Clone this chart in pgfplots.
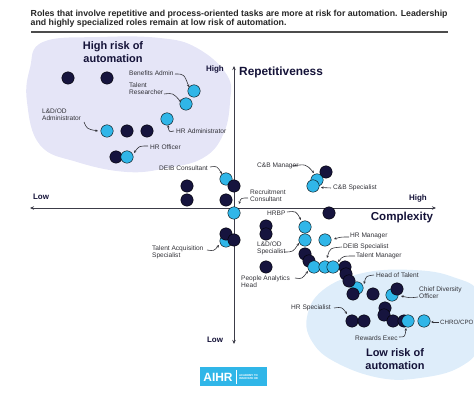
\documentclass[border=0pt]{standalone}
\usepackage{fontspec}
\setmainfont{Liberation Sans}
\usepackage{pgfplots}
\pgfplotsset{compat=1.18}
\usetikzlibrary{arrows.meta}
\definecolor{navy}{RGB}{22,20,62}
\definecolor{sky}{RGB}{48,182,232}
\definecolor{blobA}{RGB}{229,229,247}
\definecolor{blobB}{RGB}{222,237,250}
\definecolor{axgray}{RGB}{60,60,72}
\definecolor{lblgray}{RGB}{50,50,56}
\begin{document}
\begin{tikzpicture}[
  px/.style={x=1bp,y=-1bp,shift={(0bp,395bp)}},
  lbl/.style={font=\fontsize{6.6}{7.3}\selectfont, text=lblgray, inner sep=0pt, align=left, anchor=west},
  big/.style={font=\bfseries\fontsize{11}{13}\selectfont, text=navy!90!black, inner sep=0pt, align=center},
  arr/.style={lblgray, line width=0.6bp, -{Stealth[length=2.6bp,width=2.4bp]}}]
% ---- background shapes, title, quadrant axes (pixel frame) ----
\begin{scope}[px]
\fill[blobA] plot[smooth cycle, tension=0.7] coordinates {(43,42) (100,37) (160,38) (197,48) (227,75) (230,102) (223,135) (203,158) (167,168) (127,172) (77,162) (40,145) (27,102) (30,68)};
\fill[blobB] plot[smooth cycle, tension=0.7] coordinates {(323,290) (363,273) (413,270) (453,277) (480,295) (480,343) (460,367) (420,378) (380,378) (337,363) (313,343) (307,317)};
\node[anchor=north west, inner sep=0pt, align=left, font=\bfseries\fontsize{8.8}{9.4}\selectfont, text=black!85] at (30.5,9.5)
 {Roles that involve repetitive and process-oriented tasks are more at risk for automation. Leadership\\and highly specialized roles remain at low risk of automation.};
\draw[line width=2bp, color=black!70] (31,32.3) -- (448,32.3);
\draw[axgray, line width=0.9bp, {Stealth[length=4bp,width=3.5bp]}-{Stealth[length=4bp,width=3.5bp]}] (30,208) -- (436,208);
\draw[axgray, line width=0.9bp, {Stealth[length=4bp,width=3.5bp]}-{Stealth[length=4bp,width=3.5bp]}] (234,66) -- (234,344);
\end{scope}
% ---- data ----
\begin{axis}[scale only axis, width=474bp, height=395bp,
  xmin=-234, xmax=240, ymin=-187, ymax=208, hide axis, clip=false]
% light-blue roles drawn beneath the dark ones
\addplot[only marks, mark=*, mark size=6.2bp, mark options={fill=sky, draw=none}] coordinates {
 (-8,29) (-8,-33) (123,-80) (158,-87)};
% dark roles
\addplot[only marks, mark=*, mark size=6.2bp, mark options={fill=navy, draw=none}] coordinates {
 (-166,130) (-127,130) (-107,77) (-87,77) (-118,51)
 (0,22) (-47,22) (-47,8) (-8,8) (92,36) (95,-5)
 (32,-18) (32,-26) (-8,-26) (0,-32)
 (71,-46) (75,-53) (111,-59) (32,-59) (112,-66) (115,-73)
 (119,-86) (139,-86) (163,-81) (151,-100) (150,-107) (159,-113)
 (118,-113) (130,-113) (170,-113)};
% light-blue roles drawn on top
\addplot[only marks, mark=*, mark size=6.2bp, mark options={fill=sky, draw=none}] coordinates {
 (-40,117) (-48,104) (-67,89) (-127,77) (-107,51)
 (83,28) (79,22) (0,-5) (71,-19) (71,-32) (91,-32)
 (80,-59) (91,-59) (99,-59) (174,-113) (190,-113)};
\end{axis}
% ---- labels and arrows (pixel frame) ----
\begin{scope}[px]
\node[big] at (113,52.5) {High risk of\\automation};
\node[big] at (395,359.5) {Low risk of\\automation};
\node[font=\bfseries\fontsize{11.9}{13}\selectfont, text=navy!90!black, inner sep=0pt, anchor=west] at (239,72) {Repetitiveness};
\node[font=\bfseries\fontsize{11.6}{13}\selectfont, text=navy!90!black, inner sep=0pt] at (402,218) {Complexity};
\node[font=\bfseries\fontsize{8}{9}\selectfont, text=navy!90!black, inner sep=0pt] at (215,69) {High};
\node[font=\bfseries\fontsize{8}{9}\selectfont, text=navy!90!black, inner sep=0pt] at (418,198) {High};
\node[font=\bfseries\fontsize{8}{9}\selectfont, text=navy!90!black, inner sep=0pt] at (41,197) {Low};
\node[font=\bfseries\fontsize{8}{9}\selectfont, text=navy!90!black, inner sep=0pt] at (215,340) {Low};
%
\node[lbl] at (129,73) {Benefits Admin};
\draw[arr] (175,74) .. controls (184,74) .. (189,87);
\node[lbl] at (129,88.5) {Talent\\Researcher};
\draw[arr] (164,94) .. controls (173,93) .. (181,102);
\node[lbl] at (176,131) {HR Administrator};
\draw[arr] (174,131) .. controls (169,132) .. (168,125);
\node[lbl] at (42,114.5) {L\&D/OD\\Administrator};
\draw[arr] (84,122) .. controls (87,129) .. (98,131);
\node[lbl] at (150,147) {HR Officer};
\draw[arr] (148,146) .. controls (139,146) .. (134,153);
\node[lbl] at (159,168) {DEIB Consultant};
\draw[arr] (210,167) .. controls (217,166) .. (222,174);
\node[lbl] at (257,166) {C\&B Manager};
\draw[arr] (292,166) .. controls (306,164) .. (314,173);
\node[lbl] at (333,188) {C\&B Specialist};
\draw[arr] (331,188) -- (321,187.5);
\node[lbl] at (250,195.5) {Recruitment\\Consultant};
\draw[arr] (248,198) .. controls (241,198) .. (239,204);
\node[lbl] at (267,213) {HRBP};
\draw[arr] (287,212) .. controls (296,211) .. (301,220);
\node[lbl] at (350,236) {HR Manager};
\draw[arr] (349,237) .. controls (341,237) .. (334,239);
\node[lbl] at (257,248.5) {L\&D/OD\\Specialist};
\draw[arr] (284,252) .. controls (293,252) .. (299,243);
\node[lbl] at (343,247) {DEIB Specialist};
\draw[arr] (342,247) .. controls (330,248) .. (327,258);
\node[lbl] at (356,256) {Talent Manager};
\draw[arr] (355,256) .. controls (343,256) .. (338,262);
\node[lbl] at (241,281.5) {People Analytics\\Head};
\draw[arr] (295,278) .. controls (302,279) .. (308,271);
\node[lbl] at (376,275) {Head of Talent};
\draw[arr] (374,275) .. controls (366,276) .. (364,284);
\node[lbl] at (419,293) {Chief Diversity\\Officer};
\draw[arr] (418,297) .. controls (410,298) .. (401,296);
\node[lbl] at (291,308) {HR Specialist};
\draw[arr] (334,308) .. controls (342,307) .. (347,314);
\node[lbl] at (355,338) {Rewards Exec};
\draw[arr] (399,337) .. controls (405,337) .. (406,328);
\node[lbl, font=\fontsize{6.2}{7}\selectfont] at (440,322) {CHRO/CPO};
\draw[arr] (439,322) -- (431,322);
\node[lbl] at (152,252) {Talent Acquisition\\Specialist};
\draw[arr] (207,250) .. controls (214,251) .. (219,245);
% logo
\fill[sky] (200,367) rectangle (267,386);
\node[font=\bfseries\fontsize{12}{12}\selectfont, text=white, inner sep=0pt] at (218,377) {AIHR};
\draw[white, line width=0.4bp] (236,370) -- (236,384);
\node[font=\bfseries\fontsize{2.8}{3.4}\selectfont, text=white, inner sep=0pt, align=left, anchor=west] at (239,377) {ACADEMY TO\\INNOVATE HR};
\end{scope}
\pgfresetboundingbox
\path (0,0) rectangle (474bp,395bp);
\end{tikzpicture}
\end{document}
